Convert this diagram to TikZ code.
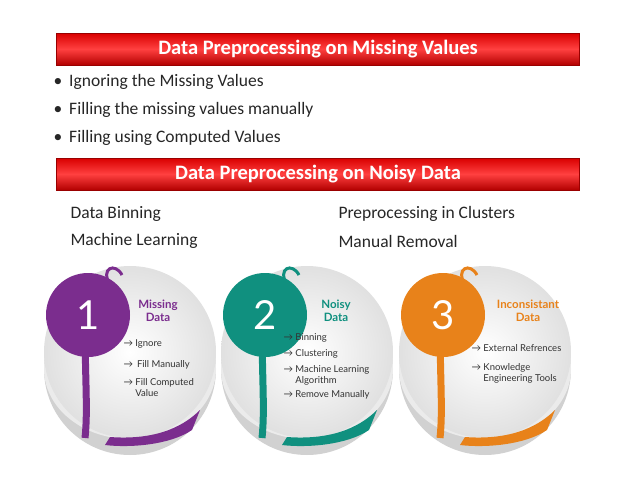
\documentclass[tikz,border=0pt]{standalone}
\usepackage{fontspec}
\setmainfont{Carlito}
\newfontfamily\rw{Lato}
\begin{document}
\begin{tikzpicture}[x=1pt,y=-1pt,
 banner/.style={draw=red!60!black,line width=0.4pt,top color=red!85!black,bottom color=red!70!black,middle color=red!75!white,minimum width=523pt,minimum height=32pt,text=white,font=\bfseries\fontsize{20.5}{23}\selectfont},
 btxt/.style={anchor=west,font=\fontsize{17.5}{20}\selectfont,text=black!85},
 num/.style={circle,minimum size=84pt,text=white,font=\rw\fontsize{40}{40}\selectfont\mdseries},
 ttl/.style={align=center,font=\rw\bfseries\fontsize{11.5}{13}\selectfont},
 itm/.style={anchor=west,align=left,font=\rw\fontsize{9.5}{11}\selectfont,text=black!80}]
\useasboundingbox (0,0) rectangle (638,493);
\node[banner] (b1) at (318,49) {Data Preprocessing on Missing Values};
\foreach \y/\t [count=\i] in {82/Ignoring the Missing Values,110/Filling the missing values manually,138/Filling using Computed Values}
 \node[btxt] (l\i) at (50,\y) {•\hspace{7pt}\t};
\node[banner] (b2) at (318,174) {Data Preprocessing on Noisy Data};
\node[btxt] (n1) at (67,214) {Data Binning};
\node[btxt] (n2) at (67,241) {Machine Learning};
\node[btxt] (n3) at (335,214) {Preprocessing in Clusters};
\node[btxt] (n4) at (335,241) {Manual Removal};
\definecolor{c1}{HTML}{7B2D8E}\definecolor{c2}{HTML}{10907F}\definecolor{c3}{HTML}{E8821A}
\foreach \cx/\col/\n in {130/c1/1,307/c2/2,485/c3/3}{
 \fill[black!18] (\cx,369) circle (86);
 \fill[black!8] (\cx,369) ellipse (86 and 70);
 \shade[inner color=white,outer color=black!12] (\cx,352) circle (86);
 \draw[line width=7pt,\col] (\cx-45,320) .. controls (\cx-45,380) and (\cx-42,410) .. (\cx-45,438);
 \draw[line width=3pt,\col] (\cx-20,285) .. controls (\cx-30,268) and (\cx-15,262) .. (\cx-8,275);
 \fill[\col] (\cx-20,437) .. controls (\cx+20,440) and (\cx+50,430) .. (\cx+70,410) -- (\cx+62,430) .. controls (\cx+40,445) and (\cx,448) .. (\cx-25,445) -- cycle;
 \node[num,fill=\col] (k\n) at (\cx-42,315) {\n};
}
\node[ttl,text=c1] (t1) at (158,311) {Missing\\Data};
\node[itm] (a1) at (120,344) {→ Ignore};
\node[itm] (a2) at (120,365) {→ \,Fill Manually};
\node[itm] (a3) at (120,388) {→ Fill Computed\\\phantom{→ }Value};
\node[ttl,text=c2] (t2) at (336,311) {Noisy\\Data};
\node[itm] (b21) at (280,338) {→ Binning};
\node[itm] (b22) at (280,354) {→ Clustering};
\node[itm] (b23) at (280,375) {→ Machine Learning\\\phantom{→ }Algorithm};
\node[itm] (b24) at (280,395) {→ Remove Manually};
\node[ttl,text=c3] (t3) at (528,311) {Inconsistant\\Data};
\node[itm] (c21) at (468,348) {→ External Refrences};
\node[itm] (c22) at (468,373) {→ Knowledge\\\phantom{→ }Engineering Tools};
\end{tikzpicture}
\end{document}
